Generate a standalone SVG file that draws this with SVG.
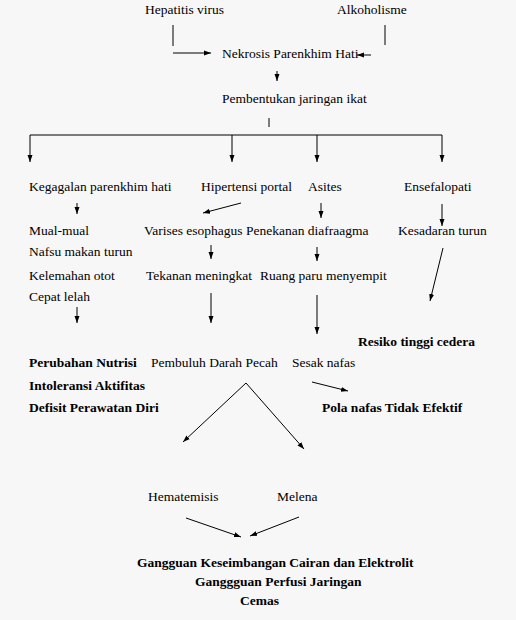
<svg xmlns="http://www.w3.org/2000/svg" width="516" height="620" viewBox="0 0 516 620">
<defs>
<marker id="ah" markerWidth="8" markerHeight="8" refX="7" refY="4" orient="auto" markerUnits="userSpaceOnUse">
<path d="M0,1.5 L7,4 L0,6.5 Z" fill="#000"/>
</marker>
</defs>
<style>
text{font-family:"Liberation Serif","Times New Roman",serif;font-size:13.5px;fill:#000}
.b{font-weight:bold}
.c{stroke:#000;stroke-width:1;fill:none}
.a{marker-end:url(#ah)}
</style>
<rect width="516" height="620" fill="#f7f7f7"/>
<g id="connectors">
<line class="c" x1="173" y1="25" x2="173" y2="46"/>
<line class="c a" x1="173" y1="53" x2="211" y2="53"/>
<line class="c" x1="385" y1="25" x2="385" y2="45"/>
<line class="c a" x1="371" y1="55" x2="357" y2="55"/>
<line class="c a" x1="277" y1="71" x2="277" y2="81"/>
<line class="c" x1="269" y1="118" x2="269" y2="127"/>
<line class="c" x1="30" y1="135" x2="442" y2="135"/>
<line class="c a" x1="30" y1="135" x2="30" y2="162"/>
<line class="c a" x1="232" y1="135" x2="232" y2="162"/>
<line class="c a" x1="317" y1="135" x2="317" y2="162"/>
<line class="c a" x1="442" y1="135" x2="442" y2="162"/>
<line class="c a" x1="77" y1="203" x2="77" y2="214"/>
<line class="c a" x1="241" y1="203" x2="203" y2="213"/>
<line class="c a" x1="321" y1="203" x2="321" y2="218"/>
<line class="c a" x1="442" y1="204" x2="442" y2="226"/>
<line class="c a" x1="211" y1="245" x2="211" y2="259"/>
<line class="c a" x1="317" y1="247" x2="317" y2="261"/>
<line class="c a" x1="443" y1="248" x2="430" y2="301"/>
<line class="c a" x1="77" y1="307" x2="77" y2="323"/>
<line class="c a" x1="211" y1="293" x2="211" y2="323"/>
<line class="c a" x1="317" y1="295" x2="317" y2="334"/>
<line class="c a" x1="312" y1="382" x2="348" y2="391"/>
<line class="c a" x1="246" y1="383" x2="183" y2="442"/>
<line class="c a" x1="246" y1="383" x2="304" y2="449"/>
<line class="c a" x1="186" y1="518" x2="241" y2="537"/>
<line class="c a" x1="299" y1="517" x2="250" y2="536"/>
</g>
<g id="hepatitis"><text x="145" y="14">Hepatitis virus</text></g>
<g id="alkoholisme"><text x="337" y="14">Alkoholisme</text></g>
<g id="nekrosis"><text x="222" y="58">Nekrosis Parenkhim Hati</text></g>
<g id="pembentukan"><text x="222" y="103">Pembentukan jaringan ikat</text></g>
<g id="kegagalan"><text x="29" y="191">Kegagalan parenkhim hati</text></g>
<g id="hipertensi"><text x="201" y="191">Hipertensi portal</text></g>
<g id="asites"><text x="308" y="191">Asites</text></g>
<g id="ensefalopati"><text x="404" y="191">Ensefalopati</text></g>
<g id="gejala">
<text x="29" y="235">Mual-mual</text>
<text x="29" y="256">Nafsu makan turun</text>
<text x="29" y="280">Kelemahan otot</text>
<text x="29" y="301">Cepat lelah</text>
</g>
<g id="varises"><text x="144" y="235">Varises esophagus</text></g>
<g id="penekanan"><text x="246" y="235">Penekanan diafraagma</text></g>
<g id="kesadaran"><text x="398" y="235">Kesadaran turun</text></g>
<g id="tekanan"><text x="146" y="280">Tekanan meningkat</text></g>
<g id="ruang"><text x="260" y="280">Ruang paru menyempit</text></g>
<g id="resiko"><text class="b" x="358" y="346">Resiko tinggi cedera</text></g>
<g id="diagnosa1">
<text class="b" x="29" y="367">Perubahan Nutrisi</text>
<text class="b" x="29" y="390">Intoleransi Aktifitas</text>
<text class="b" x="29" y="412">Defisit Perawatan Diri</text>
</g>
<g id="pembuluh"><text x="151" y="367">Pembuluh Darah Pecah</text></g>
<g id="sesak"><text x="292" y="367">Sesak nafas</text></g>
<g id="pola"><text class="b" x="322" y="412">Pola nafas Tidak Efektif</text></g>
<g id="hematemisis"><text x="148" y="501">Hematemisis</text></g>
<g id="melena"><text x="277" y="501">Melena</text></g>
<g id="diagnosa2">
<text class="b" x="137" y="567">Gangguan Keseimbangan Cairan dan Elektrolit</text>
<text class="b" x="195" y="586">Ganggguan Perfusi Jaringan</text>
<text class="b" x="240" y="605">Cemas</text>
</g>
</svg>
